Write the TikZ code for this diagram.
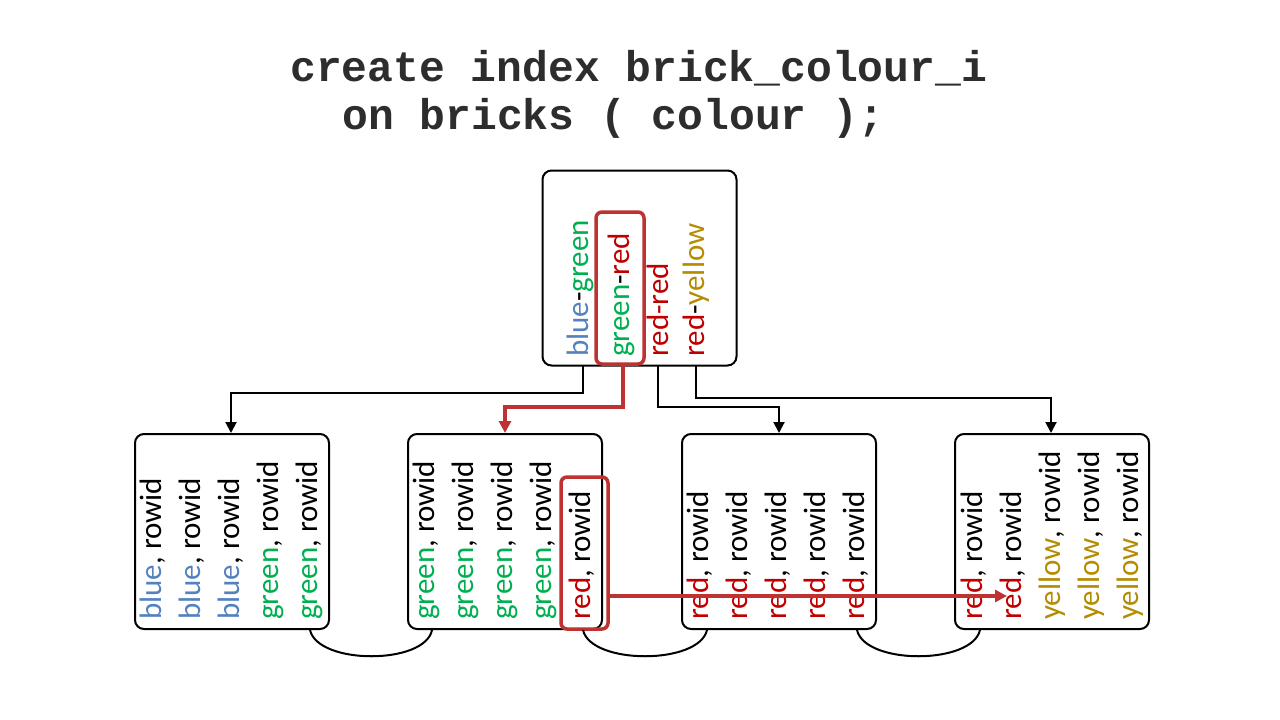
\documentclass[tikz,border=0pt]{standalone}
\usepackage{fontspec}
\setmainfont{Carlito}
\newfontfamily\codefont{Liberation Mono}
\usetikzlibrary{arrows.meta,calc}
\definecolor{cblue}{RGB}{84,130,190}
\definecolor{cgreen}{RGB}{0,176,80}
\definecolor{cred}{RGB}{192,0,0}
\definecolor{cyellow}{RGB}{180,140,0}
\definecolor{hired}{RGB}{190,50,50}
\definecolor{codegray}{RGB}{45,45,45}
\begin{document}
\begin{tikzpicture}[x=1pt,y=-1pt,
    box/.style={draw=black, line width=2pt, rounded corners=9pt, minimum width=194pt, minimum height=195pt, inner sep=0pt},
    key/.style={rotate=90, anchor=west, inner sep=0pt, font=\fontsize{31}{31}\selectfont},
    hilite/.style={draw=hired, line width=3.5pt, rounded corners=6pt},
    link/.style={line width=2pt, -{Triangle[length=11pt, width=11pt]}},
    redlink/.style={hired, line width=4pt, -{Triangle[length=12pt, width=12pt]}},
    chain/.style={line width=2pt},
    code/.style={anchor=west, inner sep=0pt, text=codegray, font=\codefont\bfseries\fontsize{43}{43}\selectfont}
]
\useasboundingbox[fill=white] (0,0) rectangle (1280,720);
% statement
\node[code] (stmt1) at (290,68) {create index brick\_colour\_i};
\node[code] (stmt2) at (342,118) {on bricks ( colour );};
% root block
\node[box] (root) at (639.5,268) {};
\node[key] (r1) at (580,357) {\textcolor{cblue}{blue}-\textcolor{cgreen}{green}};
\node[key] (r2) at (621,357) {\textcolor{cgreen}{green}-\textcolor{cred}{red}};
\node[key] (r3) at (658,357) {\textcolor{cred}{red-red}};
\node[key] (r4) at (696,357) {\textcolor{cred}{red}-\textcolor{cyellow}{yellow}};
\draw[hilite] (596,212) rectangle (644,364);
% leaf blocks
\foreach \n/\x in {1/232, 2/505, 3/779, 4/1052}
    \node[box] (leaf\n) at (\x,531.5) {};
\foreach \i/\c/\k in {0/cblue/blue, 1/cblue/blue, 2/cblue/blue, 3/cgreen/green, 4/cgreen/green}
    \node[key] at (153+39*\i,620) {\textcolor{\c}{\k}, rowid};
\foreach \i/\c/\k in {0/cgreen/green, 1/cgreen/green, 2/cgreen/green, 3/cgreen/green, 4/cred/red}
    \node[key] at (426+39*\i,620) {\textcolor{\c}{\k}, rowid};
\foreach \i in {0,...,4}
    \node[key] at (700+39*\i,620) {\textcolor{cred}{red}, rowid};
\foreach \i/\c/\k in {0/cred/red, 1/cred/red, 2/cyellow/yellow, 3/cyellow/yellow, 4/cyellow/yellow}
    \node[key] at (974+39*\i,620) {\textcolor{\c}{\k}, rowid};
\draw[hilite] (561,477) rectangle (608,629);
% branch pointers
\draw[link] (583,366) |- (231,393) -- (leaf1.north -| 231,0);
\draw[link] (658,366) |- (779,407) -- (leaf3.north);
\draw[link] (696,366) |- (1051,398) -- (leaf4.north -| 1051,0);
\draw[redlink] (623,366) |- (505,407) -- (leaf2.north);
% leaf chain
\draw[chain] (leaf1.south -| 310,0) .. controls (318,665) and (425,665) .. (leaf2.south -| 432,0);
\draw[chain] (leaf2.south -| 583,0) .. controls (591,665) and (699,665) .. (leaf3.south -| 707,0);
\draw[chain] (leaf3.south -| 857,0) .. controls (865,665) and (972,665) .. (leaf4.south -| 980,0);
% scan
\draw[redlink] (608,596) -- (1007,596);
\end{tikzpicture}
\end{document}
